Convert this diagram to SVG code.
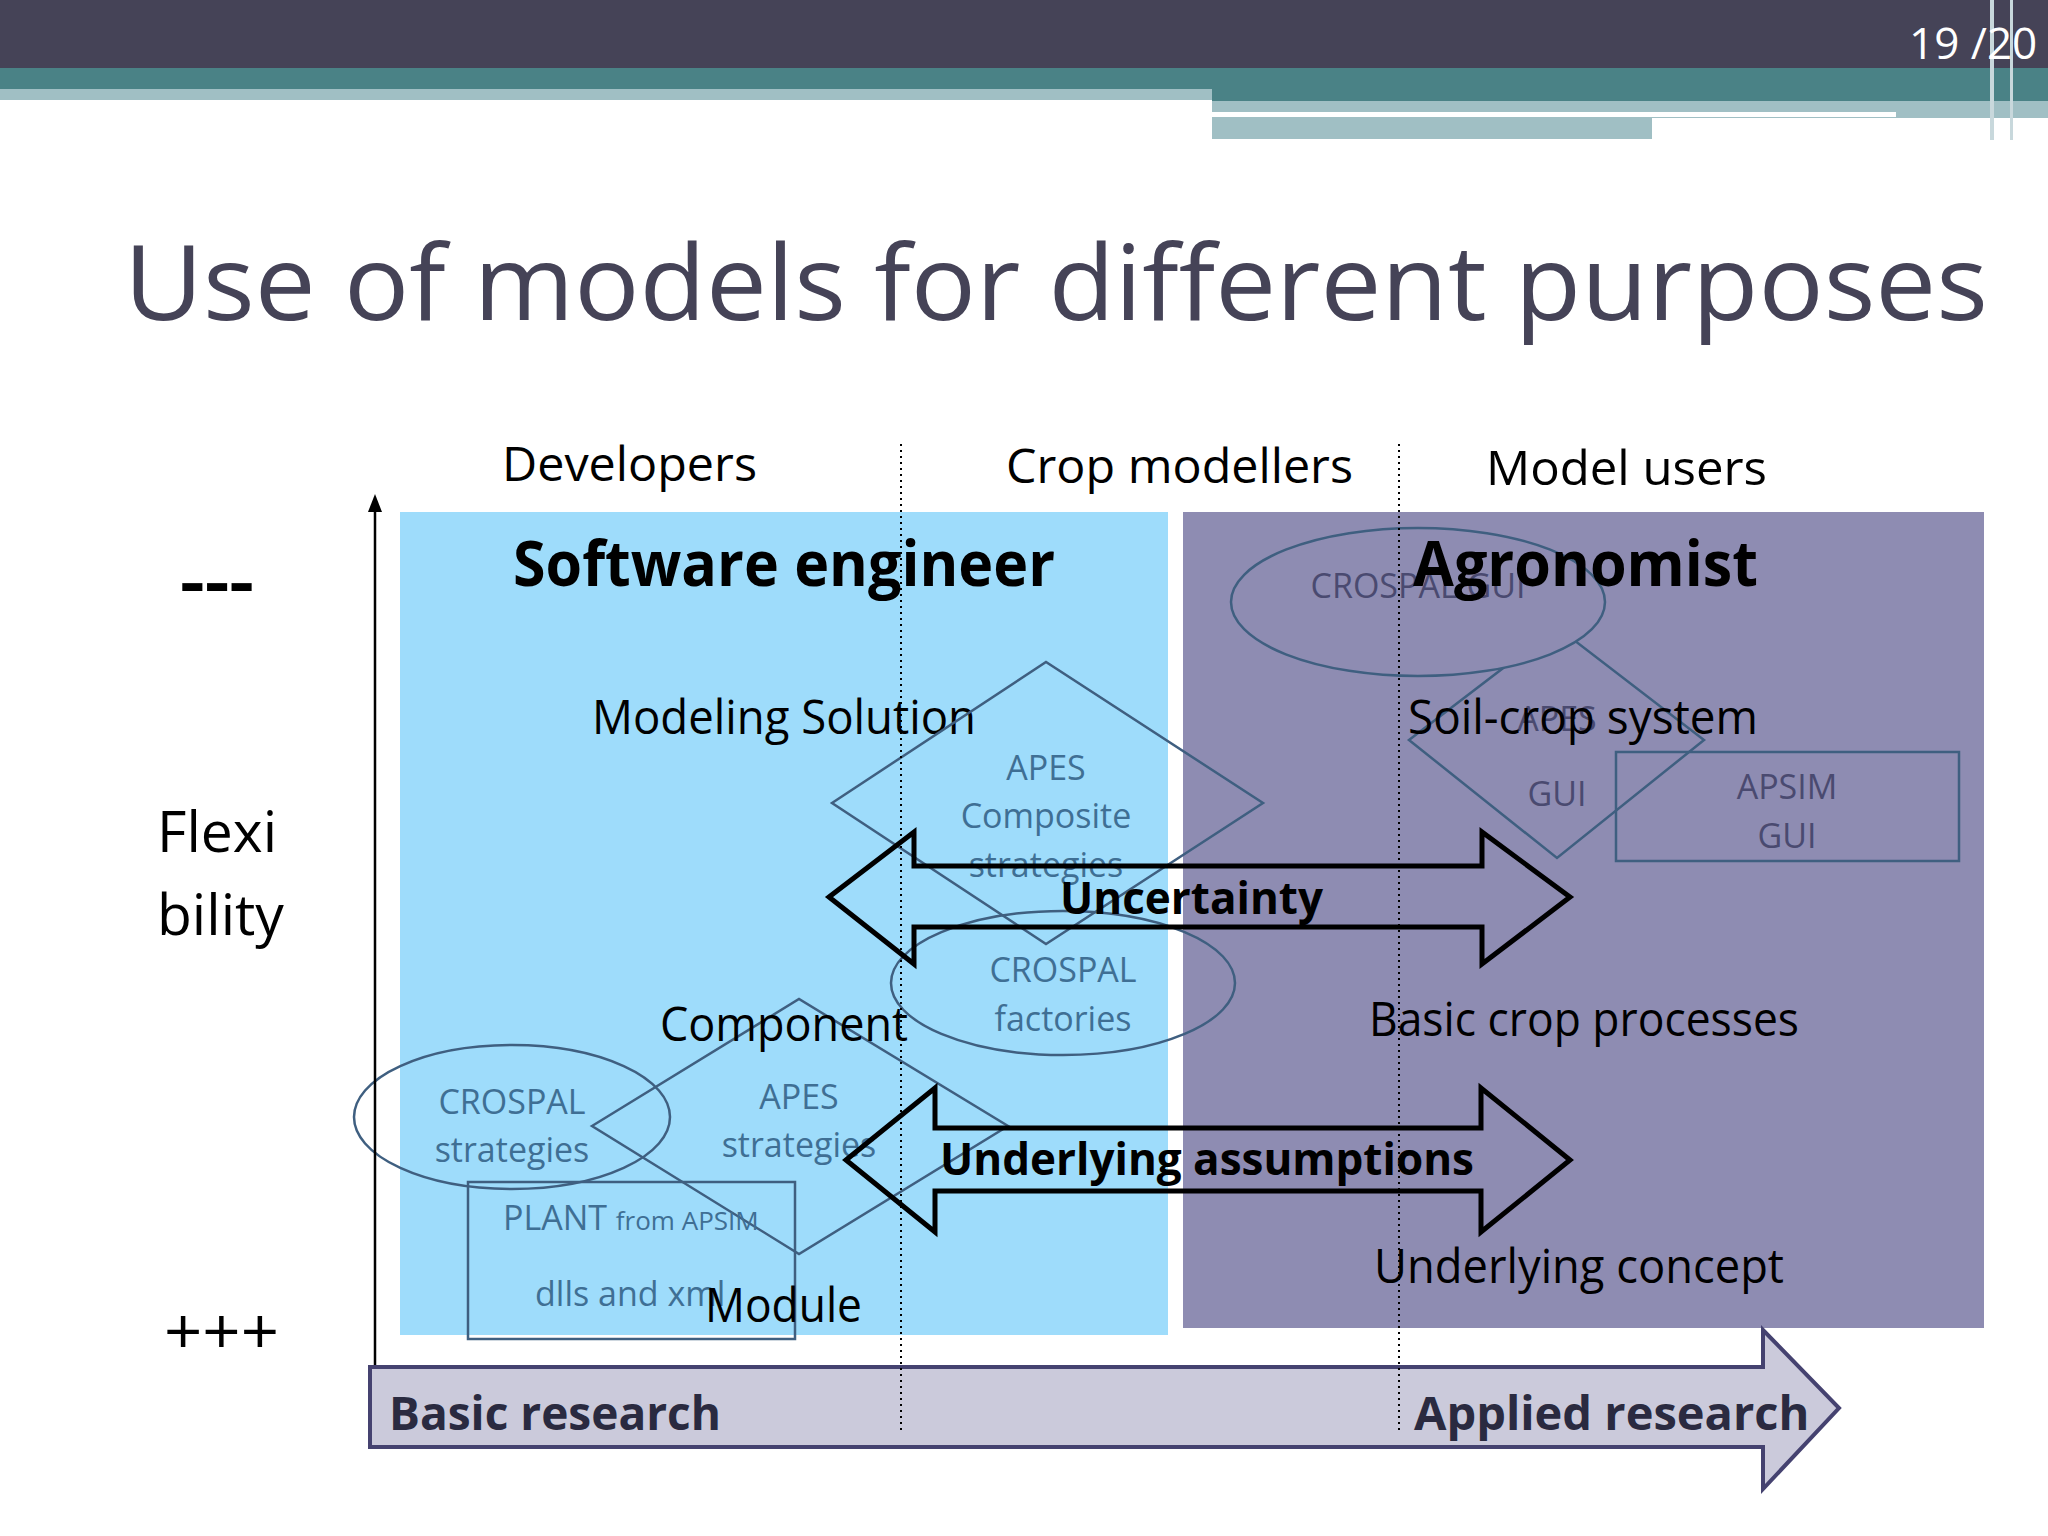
<svg xmlns="http://www.w3.org/2000/svg" width="2048" height="1536" viewBox="0 0 2048 1536">
<style>
text{font-family:"Open Sans","Noto Sans","Liberation Sans",sans-serif}
.lbl{font-size:47px;fill:#000}
.b{font-weight:bold}
.st{font-size:34px;fill:#3f6f94;text-anchor:middle}
.sp{font-size:34px;fill:#4a4a70;text-anchor:middle}
.sh{fill:none;stroke:#3f5f80;stroke-width:2.5}
.dot{stroke:#000;stroke-width:2;stroke-dasharray:2 4}
.dbl{fill:none;stroke:#000;stroke-width:5;stroke-linejoin:miter}
</style>
<rect width="2048" height="1536" fill="#fff"/>
<g id="header">
<rect x="0" y="0" width="2048" height="68" fill="#454357"/>
<rect x="0" y="68" width="2048" height="21" fill="#4a8286"/>
<rect x="0" y="89" width="1212" height="11" fill="#a0bfc4"/>
<rect x="1212" y="89" width="836" height="12" fill="#4a8286"/>
<rect x="1212" y="101" width="836" height="17" fill="#a0bfc4"/>
<rect x="1212" y="112" width="684" height="5" fill="#fff"/>
<rect x="1212" y="117" width="440" height="22" fill="#a0bfc4"/>
<rect x="1990" y="0" width="4" height="140" fill="#c8d8dc"/>
<rect x="2010" y="0" width="3" height="140" fill="#c8d8dc"/>
<text x="1909" y="59" font-size="44" fill="#fff">19 /20</text>
</g>
<text x="124" y="320" font-size="104" fill="#454357" textLength="1864" lengthAdjust="spacingAndGlyphs">Use of models for different purposes</text>
<g id="regions">
<rect x="400" y="512" width="768" height="823" fill="#9edcfb"/>
<rect x="1183" y="512" width="801" height="816" fill="#8e8cb2"/>
</g>
<text class="lbl" x="502" y="481" textLength="255" lengthAdjust="spacingAndGlyphs">Developers</text>
<text class="lbl" x="1006" y="483" textLength="347" lengthAdjust="spacingAndGlyphs">Crop modellers</text>
<text class="lbl" x="1486" y="485" textLength="281" lengthAdjust="spacingAndGlyphs">Model users</text>
<text x="180" y="604" font-size="64" font-weight="bold" fill="#000" textLength="74" lengthAdjust="spacingAndGlyphs">---</text>
<text x="164" y="1354" font-size="64" fill="#000" textLength="115" lengthAdjust="spacingAndGlyphs">+++</text>
<text x="157" y="852" font-size="57" fill="#000">Flexi</text>
<text x="157" y="935" font-size="57" fill="#000">bility</text>
<text x="513" y="586" font-size="63" class="b" textLength="542" lengthAdjust="spacingAndGlyphs">Software engineer</text>
<g id="apes-gui"><polygon class="sh" points="1409,740 1557,627 1704,740 1557,858"/><text class="sp" x="1557" y="731">APES</text><text class="sp" x="1557" y="806">GUI</text></g>
<g id="crospal-gui"><ellipse class="sh" cx="1418" cy="602" rx="187" ry="74" style="fill:#8e8cb2"/><text class="sp" x="1418" y="598">CROSPAL GUI</text></g>
<text x="1413" y="586" font-size="63" class="b" textLength="345" lengthAdjust="spacingAndGlyphs">Agronomist</text>
<g id="apsim-gui"><rect class="sh" x="1616" y="752" width="343" height="109"/><text class="sp" x="1787" y="799">APSIM</text><text class="sp" x="1787" y="848">GUI</text></g>
<text class="lbl" x="592" y="734" textLength="384" lengthAdjust="spacingAndGlyphs">Modeling Solution</text>
<text class="lbl" x="1408" y="734" textLength="350" lengthAdjust="spacingAndGlyphs">Soil-crop system</text>
<g id="apes-composite"><polygon class="sh" points="832,803 1046,662 1263,803 1046,944"/><text class="st" x="1046" y="780">APES</text><text class="st" x="1046" y="828">Composite</text><text class="st" x="1046" y="877">strategies</text></g>
<g id="crospal-factories"><ellipse class="sh" cx="1063" cy="983" rx="172" ry="72"/><text class="st" x="1063" y="982">CROSPAL</text><text class="st" x="1063" y="1031">factories</text></g>
<g id="crospal-strategies"><ellipse class="sh" cx="512" cy="1117" rx="158" ry="72"/><text class="st" x="512" y="1114">CROSPAL</text><text class="st" x="512" y="1162">strategies</text></g>
<g id="apes-strategies"><polygon class="sh" points="592,1126 799,999 1008,1126 799,1254"/><text class="st" x="799" y="1109">APES</text><text class="st" x="799" y="1157">strategies</text></g>
<g id="plant"><rect class="sh" x="468" y="1182" width="327" height="157"/><text x="503" y="1230" font-size="34" fill="#3f6f94">PLANT <tspan font-size="26">from APSIM</tspan></text><text x="535" y="1306" font-size="34" fill="#3f6f94">dlls and xml</text></g>
<text class="lbl" x="660" y="1041" textLength="248" lengthAdjust="spacingAndGlyphs">Component</text>
<text class="lbl" x="1369" y="1036" textLength="430" lengthAdjust="spacingAndGlyphs">Basic crop processes</text>
<text class="lbl" x="1374" y="1283" textLength="410" lengthAdjust="spacingAndGlyphs">Underlying concept</text>
<text class="lbl" x="705" y="1322" textLength="157" lengthAdjust="spacingAndGlyphs">Module</text>
<g id="uncertainty">
<polygon class="dbl" points="829,897 914,832 914,866 1482,866 1482,832 1570,897 1482,964 1482,927 914,927 914,964"/>
<text x="1060" y="914" font-size="44" class="b">Uncertainty</text>
</g>
<g id="assumptions">
<polygon class="dbl" points="846,1160 935,1088 935,1128 1481,1128 1481,1088 1570,1160 1481,1232 1481,1191 935,1191 935,1232"/>
<text x="940" y="1175" font-size="44" class="b">Underlying assumptions</text>
</g>
<g id="research">
<polygon points="370,1367 1763,1367 1763,1330 1839,1408 1763,1489 1763,1447 370,1447" fill="#cbcadb" stroke="#454270" stroke-width="4"/>
<text x="389" y="1430" font-size="47" class="b" fill="#2a2a40" textLength="332" lengthAdjust="spacingAndGlyphs">Basic research</text>
<text x="1414" y="1430" font-size="47" class="b" fill="#2a2a40">Applied research</text>
</g>
<g id="connectors">
<line class="dot" x1="901" y1="444" x2="901" y2="1432"/>
<line class="dot" x1="1399" y1="444" x2="1399" y2="1432"/>
<line x1="375" y1="1365" x2="375" y2="508" stroke="#000" stroke-width="2.5"/>
<polygon points="375,494 368,512 382,512" fill="#000"/>
</g>
</svg>
